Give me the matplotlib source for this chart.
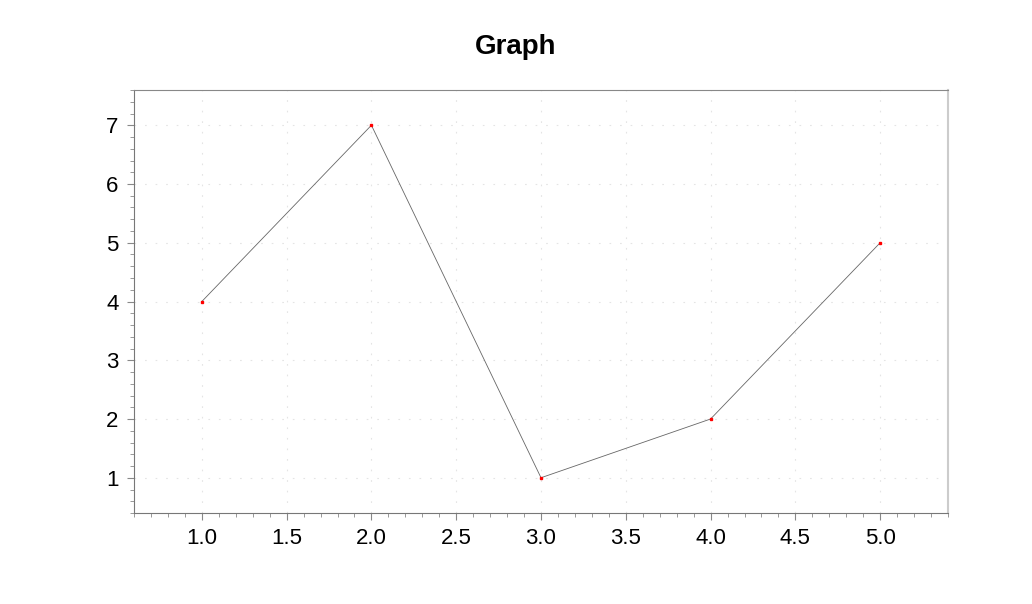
import matplotlib
matplotlib.use('Agg')
import matplotlib.pyplot as plt
from matplotlib.ticker import MultipleLocator

x = [1, 2, 3, 4, 5]
y = [4, 7, 1, 2, 5]

plt.rcParams['font.family'] = ['Liberation Sans', 'DejaVu Sans']

fig = plt.figure(figsize=(10.32, 6.04), dpi=100)
ax = fig.add_axes([134 / 1032, 1 - 513 / 604, (948 - 134) / 1032, (513 - 90) / 604])

ax.plot(x, y, color='#666666', linewidth=0.6, zorder=3)
ax.plot(x, y, linestyle='none', marker='s', markersize=1.6, color='red', zorder=4)

ax.set_xlim(0.6, 5.4)
ax.set_ylim(0.4, 7.6)
ax.xaxis.set_major_locator(MultipleLocator(0.5))
ax.xaxis.set_minor_locator(MultipleLocator(0.1))
ax.yaxis.set_major_locator(MultipleLocator(1))
ax.yaxis.set_minor_locator(MultipleLocator(0.2))
ax.xaxis.set_major_formatter(plt.FormatStrFormatter('%.1f'))

ax.grid(True, which='major', color='#e4e4e4', linestyle=(0, (1.5, 8)), linewidth=0.8)
ax.tick_params(which='major', direction='out', length=5, color='#888888', labelsize=16, pad=6)
ax.tick_params(which='minor', direction='out', length=3, color='#888888')

ax.spines['left'].set_color('#777777')
ax.spines['bottom'].set_color('#777777')
ax.spines['top'].set_color('#888888')
ax.spines['right'].set_color('#cccccc')
ax.spines['right'].set_linewidth(1.5)

fig.text(516 / 1032, 1 - 47 / 604, 'Graph', ha='center', va='center', fontsize=20, fontweight='bold')

fig.savefig('out.png', dpi=100)
